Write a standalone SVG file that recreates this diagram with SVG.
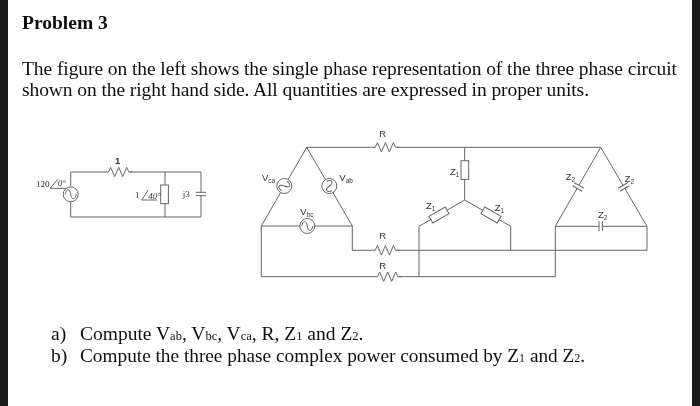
<svg xmlns="http://www.w3.org/2000/svg" width="700" height="406" viewBox="0 0 700 406">
<defs>
<style>
.w{fill:none;stroke:#666;stroke-width:1}
.b{fill:#fff;stroke:#666;stroke-width:1}
.t{font-family:"Liberation Serif",serif;fill:#111;font-size:19.5px}
.s{font-family:"Liberation Sans",sans-serif;fill:#333;font-size:9.5px}
.u{font-size:6.500px}
.m{font-family:"Liberation Serif",serif;fill:#333;font-size:9px}
</style>
<filter id="soft" x="0" y="0" width="100%" height="100%"><feGaussianBlur stdDeviation="0.35"/></filter>
<path id="res" class="w" d="M0 0l3.500 0 2.200-4.700 4 9.400 4-9.400 4 9.400 4-9.400 2.200 4.700 3.600 0"/>
<path id="wave" class="w" d="M-5.500 0C-4.500-6-.8-6 0 0S4.500 6 5.500 0"/>
<circle id="ring" class="b" r="7.500"/>
</defs>
<rect width="700" height="406" fill="#fff"/>
<rect width="8" height="406" fill="#1a1a1a"/>
<rect x="692" width="8" height="406" fill="#1a1a1a"/>
<g filter="url(#soft)">
<g id="text">
<text class="t" x="22" y="29" font-weight="bold" font-size="19">Problem 3</text>
<text class="t" x="22" y="75" textLength="655">The figure on the left shows the single phase representation of the three phase circuit</text>
<text class="t" x="22" y="96" textLength="567">shown on the right hand side. All quantities are expressed in proper units.</text>
<text class="t" x="51" y="340">a)</text>
<text class="t" x="80" y="340">Compute V<tspan font-size="12.500">ab</tspan>, V<tspan font-size="12.500">bc</tspan>, V<tspan font-size="12.500">ca</tspan>, R, Z<tspan font-size="12.500">1</tspan> and Z<tspan font-size="12.500">2</tspan>.</text>
<text class="t" x="51" y="362">b)</text>
<text class="t" x="80" y="362" style="font-size:19.3px">Compute the three phase complex power consumed by Z<tspan font-size="12">1</tspan> and Z<tspan font-size="12">2</tspan>.</text>
</g>
<g id="connectors">
<path class="w" d="M70.700 186V172H105M130 172H201V192.300M201 195.700V217H70.700V202M165 172V185M165 204V217"/>
<path class="w" d="M195.700 192.300H206M195.700 195.700H206"/>
<path class="w" d="M50 188.300L57.700 179.300M50 188.300H65.700"/>
<path class="w" d="M141.700 200L148.300 190M141.700 200H157.300"/>
<path class="w" d="M261.300 226L306.700 147.300L352.300 226ZM306.700 147.300H371.700M397 147.300H600.700M352.300 226V250.300H371.700M397 250.300H647V226.300M261.300 226V276.700H374M399 276.700H555.300V226.300"/>
<path class="w" d="M464.700 147.300V200L419 226.300V276.700M464.700 200L510.700 226.300V250.300"/>
<path class="w" d="M555.300 226.300L600.700 147.300L647 226.300Z"/>
</g>
<g id="R-left"><use href="#res" x="105" y="172"/><text class="s" x="117.700" y="164" text-anchor="middle" font-weight="bold">1</text></g>
<g id="V-source"><use href="#ring" x="70.700" y="194.300"/><use href="#wave" x="70.700" y="194.300"/><text class="m" x="36" y="187">120</text><text class="m" x="57.700" y="185.500" font-style="italic" font-size="8">0°</text></g>
<g id="Z-left"><rect class="b" x="160.700" y="185" width="7.700" height="18.700"/><text class="m" x="135" y="198.300">1</text><text class="m" x="148.300" y="198.500" font-style="italic">40°</text></g>
<g id="C-left"><text class="m" x="182.700" y="197.300">j3</text></g>
<g id="Vca"><use href="#ring" x="284.300" y="186"/><use href="#wave" transform="translate(284.300 186) rotate(-60)"/><text class="s" x="262" y="181">V<tspan class="u" dy="1.500">ca</tspan></text></g>
<g id="Vab"><use href="#ring" x="329.300" y="186"/><use href="#wave" transform="translate(329.300 186) rotate(60)"/><text class="s" x="339.300" y="181">V<tspan class="u" dy="1.500">ab</tspan></text></g>
<g id="Vbc"><use href="#ring" x="307.300" y="226"/><use href="#wave" x="307.300" y="226"/><text class="s" x="300.300" y="215">V<tspan class="u" dy="1.500">bc</tspan></text></g>
<g id="R-a"><use href="#res" x="371.700" y="147.300"/><text class="s" x="382.700" y="137.300" text-anchor="middle">R</text></g>
<g id="R-b"><use href="#res" x="371.700" y="250.300"/><text class="s" x="382.700" y="239.300" text-anchor="middle">R</text></g>
<g id="R-c"><use href="#res" x="374" y="276.700"/><text class="s" x="382.700" y="269" text-anchor="middle">R</text></g>
<g id="Z1-top"><rect class="b" x="461" y="160.700" width="7.700" height="18.700"/><text class="s" x="450" y="175">Z<tspan class="u" dy="1.500">1</tspan></text></g>
<g id="Z1-left"><rect class="b" x="-9.350" y="-3.850" width="18.700" height="7.700" transform="translate(439 215) rotate(-30)"/><text class="s" x="426" y="209">Z<tspan class="u" dy="1.500">1</tspan></text></g>
<g id="Z1-right"><rect class="b" x="-9.350" y="-3.850" width="18.700" height="7.700" transform="translate(491 215) rotate(30)"/><text class="s" x="494.700" y="211">Z<tspan class="u" dy="1.500">1</tspan></text></g>
<g id="Z2-left"><g transform="translate(578.300 187) rotate(-60)"><rect x="-1.700" y="-5" width="3.400" height="10" fill="#fff"/><path class="w" d="M-1.700-5.500V5.500M1.700-5.500V5.500"/></g><text class="s" x="565.700" y="180">Z<tspan class="u" dy="1.500">2</tspan></text></g>
<g id="Z2-right"><g transform="translate(623.700 187) rotate(60)"><rect x="-1.700" y="-5" width="3.400" height="10" fill="#fff"/><path class="w" d="M-1.700-5.500V5.500M1.700-5.500V5.500"/></g><text class="s" x="624.700" y="182.300">Z<tspan class="u" dy="1.500">2</tspan></text></g>
<g id="Z2-bottom"><rect x="599" y="221" width="3.400" height="10" fill="#fff"/><path class="w" d="M599 221V231M602.400 221V231"/><text class="s" x="598" y="218.300">Z<tspan class="u" dy="1.500">2</tspan></text></g>
</g>
</svg>
